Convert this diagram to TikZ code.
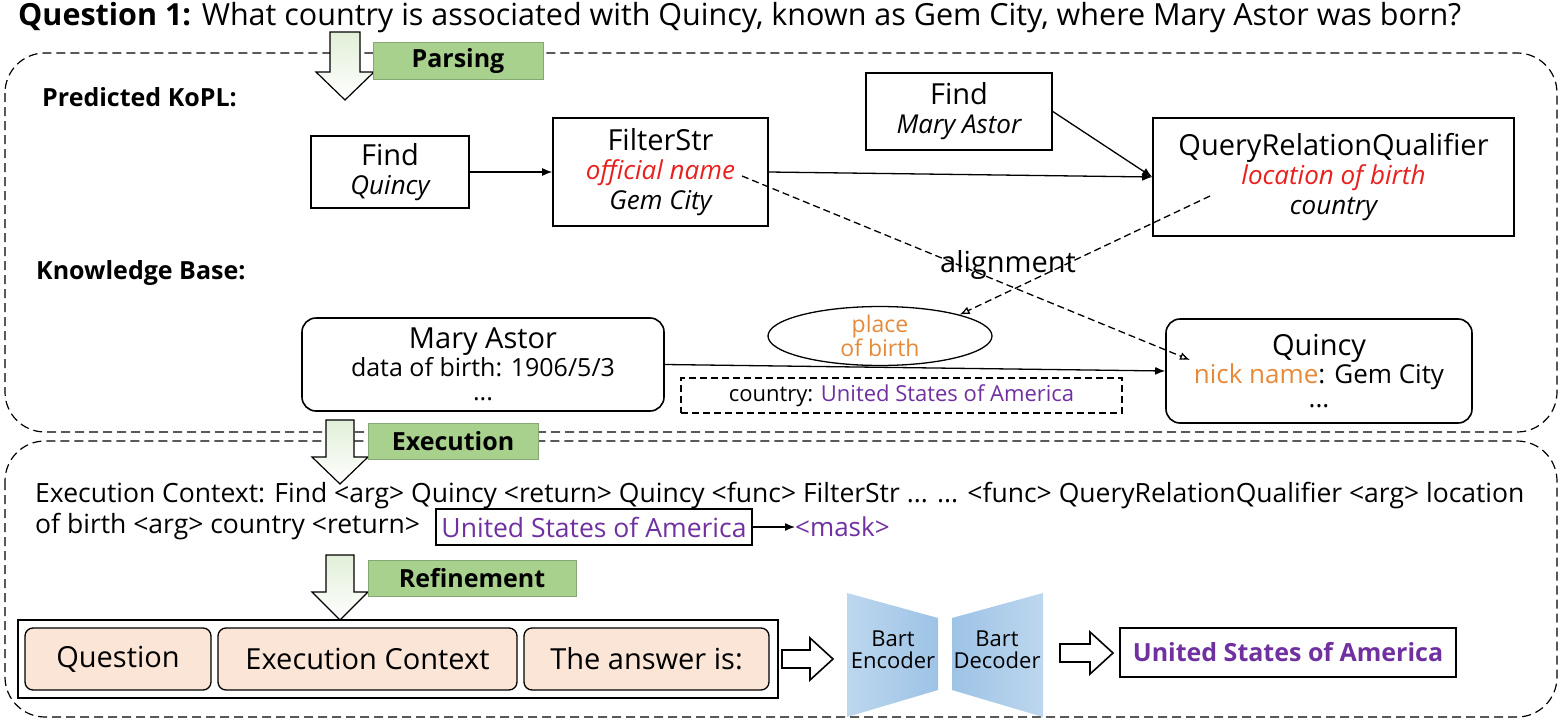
\documentclass[tikz,border=0pt]{standalone}
\usepackage{fontspec}
\setmainfont{Open Sans}
\usetikzlibrary{shapes.geometric,arrows.meta}
\definecolor{kred}{HTML}{E8201E}
\definecolor{korange}{HTML}{E58A3A}
\definecolor{kpurple}{HTML}{7030A0}
\definecolor{kgreen}{HTML}{A9D18E}
\definecolor{kpeach}{HTML}{FBE5D6}
\definecolor{kblue}{HTML}{9DC3E6}
\definecolor{kblue2}{HTML}{BDD7EE}
\begin{document}
\begin{tikzpicture}[x=1pt,y=-1pt,
  fb/.style={font=\fontsize{29}{34}\selectfont},
  fm/.style={font=\fontsize{26}{30}\selectfont},
  box/.style={draw,line width=1.6pt,align=center,inner sep=0pt},
  lbl/.style={draw=kgreen!80!black,fill=kgreen,font=\fontsize{25}{30}\selectfont\bfseries,inner sep=0pt},
  dashbox/.style={draw,dash pattern=on 9pt off 5pt,line width=1.2pt,rounded corners=40pt},
  arr/.style={-{Latex[length=10pt,width=8pt]},line width=1.3pt},
  darr/.style={-{Latex[open,length=10pt,width=8pt]},dash pattern=on 7pt off 4pt,line width=1.3pt},
  downarrow/.style={draw,line width=1.2pt,top color=kgreen!35,bottom color=white},
  hollow/.style={draw,line width=1.6pt,fill=white}]
\useasboundingbox (0,0) rectangle (1561,720);
% frames
\draw[dashbox] (5,53) rectangle (1557,432);
\draw[dashbox] (5,441) rectangle (1557,717);
% question
\node[anchor=west,inner sep=0pt,font=\fontsize{30.5}{34}\selectfont] (q) at (18,18) {\textbf{Question 1:} What country is associated with Quincy, known as Gem City, where Mary Astor was born?};
% parsing
\draw[downarrow] (330,32) -- (360,32) -- (360,72) -- (374,72) -- (345,100) -- (316,72) -- (330,72) -- cycle;
\node[lbl,minimum width=170pt,minimum height=37pt] (parsing) at (458,61) {Parsing};
\node[anchor=west,inner sep=0pt,font=\fontsize{25}{30}\selectfont\bfseries] (kopl) at (42,97) {Predicted KoPL:};
\node[anchor=west,inner sep=0pt,font=\fontsize{25}{30}\selectfont\bfseries] (kb) at (36,273) {Knowledge Base:};
% KoPL nodes
\node[box,minimum width=158pt,minimum height=72pt,fb] (f1) at (390,172) {Find\\[-5pt]{\fontsize{26}{30}\selectfont\itshape Quincy}};
\node[box,minimum width=215pt,minimum height=108pt,fb] (fs) at (660.5,172) {FilterStr\\[-5pt]{\fontsize{26}{30}\selectfont\itshape\color{kred}official name}\\[-4pt]{\fontsize{26}{30}\selectfont\itshape Gem City}};
\node[box,minimum width=186pt,minimum height=77pt,fb] (f2) at (959,111.5) {Find\\[-5pt]{\fontsize{26}{30}\selectfont\itshape Mary Astor}};
\node[box,minimum width=361pt,minimum height=118pt,fb] (qr) at (1333.5,177) {QueryRelationQualifier\\[-5pt]{\fontsize{26}{30}\selectfont\itshape\color{kred}location of birth}\\[-4pt]{\fontsize{26}{30}\selectfont\itshape country}};
\draw[arr] (f1.east) -- (fs.west);
\draw[arr] (fs.east) -- (qr.west);
\draw[arr] (f2.east) -- (qr.west);
% KB nodes
\node[box,rounded corners=14pt,minimum width=362pt,minimum height=93pt,fb] (ma) at (483,364.5) {Mary Astor\\[-6pt]{\fontsize{25}{30}\selectfont data of birth: 1906/5/3}\\[-10pt]{\fontsize{25}{30}\selectfont ...}};
\node[box,rounded corners=14pt,minimum width=306pt,minimum height=104pt,fb] (qu) at (1319,371) {Quincy\\[-6pt]{\fontsize{26}{30}\selectfont\color{korange}nick name\color{black}: Gem City}\\[-10pt]{\fontsize{26}{30}\selectfont ...}};
\node[draw,ellipse,line width=1.3pt,minimum width=224pt,minimum height=40pt,inner sep=0pt,align=center,text=korange,font=\fontsize{23}{27}\selectfont] (pob) at (880,336) {place\\[-3pt]of birth};
\node[draw,dash pattern=on 7pt off 4pt,line width=1.3pt,minimum width=441pt,minimum height=35pt,inner sep=0pt,font=\fontsize{22}{26}\selectfont] (ctry) at (901.5,395.5) {country: \color{kpurple}United States of America};
\draw[arr] (ma.east) -- (qu.west);
\coordinate (osrc) at (742,176);
\coordinate (odst) at (1190,360);
\coordinate (lsrc) at (1210,196);
\draw[darr] (osrc) -- (odst);
\draw[darr] (lsrc) -- (pob.15);
\node[fb] (align) at (1008,265) {alignment};
% execution
\draw[downarrow] (326,420) -- (354,420) -- (354,457) -- (368,457) -- (340,484) -- (312,457) -- (326,457) -- cycle;
\node[lbl,minimum width=170pt,minimum height=36pt] (exec) at (453,441.5) {Execution};
\node[anchor=west,inner sep=0pt,font=\fontsize{26.5}{30}\selectfont] (ctx1) at (35,496) {Execution Context: Find <arg> Quincy <return> Quincy <func> FilterStr ... ... <func> QueryRelationQualifier <arg> location};
\node[anchor=west,inner sep=0pt,font=\fontsize{26.5}{30}\selectfont] (ctx2) at (35,527) {of birth <arg> country <return>};
\node[box,line width=1.3pt,minimum width=316pt,minimum height=36pt,text=kpurple,font=\fontsize{26.5}{30}\selectfont] (usa) at (594,527) {United States of America};
\node[anchor=west,inner sep=0pt,text=kpurple,fm] (mask) at (795,527) {<mask>};
\draw[arr] (usa.east) -- (mask.west);
% refinement
\draw[downarrow] (326,555) -- (354,555) -- (354,592) -- (368,592) -- (340,620) -- (312,592) -- (326,592) -- cycle;
\node[lbl,minimum width=208pt,minimum height=36pt] (refine) at (472,578.5) {Refinement};
\node[box,minimum width=760pt,minimum height=78pt] (inp) at (398,659) {};
\tikzset{peach/.style={draw,line width=1.3pt,fill=kpeach,rounded corners=8pt,minimum height=62pt,inner sep=0pt,fb}}
\node[peach,minimum width=186pt] (qq) at (118,659) {Question};
\node[peach,minimum width=299pt] (ec) at (367.5,659) {Execution Context};
\node[peach,minimum width=245pt] (ta) at (646.5,659) {The answer is:};
\draw[hollow] (782,650) -- (810,650) -- (810,638) -- (833,659) -- (810,680) -- (810,668) -- (782,668) -- cycle;
\shade[left color=kblue2,right color=kblue] (847,593) -- (938,618) -- (938,690) -- (847,717) -- cycle;
\shade[left color=kblue,right color=kblue2] (952,618) -- (1043,593) -- (1043,717) -- (952,690) -- cycle;
\node[align=center,font=\fontsize{22}{26}\selectfont] (enc) at (893,650) {Bart\\[-4pt]Encoder};
\node[align=center,font=\fontsize{22}{26}\selectfont] (dec) at (997,650) {Bart\\[-4pt]Decoder};
\draw[hollow] (1060,644) -- (1090,644) -- (1090,632) -- (1113,653) -- (1090,674) -- (1090,662) -- (1060,662) -- cycle;
\node[box,minimum width=336pt,minimum height=49pt,text=kpurple,font=\fontsize{25}{30}\selectfont\bfseries] (ans) at (1288,652.5) {United States of America};
\end{tikzpicture}
\end{document}
